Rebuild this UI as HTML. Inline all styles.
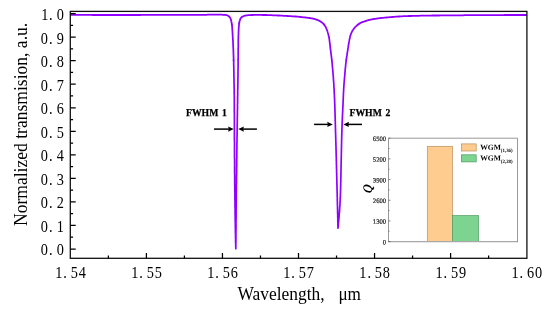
<!DOCTYPE html>
<html><head><meta charset="utf-8"><title>Transmission spectrum</title>
<style>
html,body{margin:0;padding:0;background:#fff;}
body{width:550px;height:313px;overflow:hidden;}
svg{display:block;}
text{font-family:"Liberation Serif","Times New Roman",serif;fill:#000;}
.tk{font-size:15.7px;}
.ttl{font-size:17.8px;}
.ann{font-size:9.7px;font-weight:bold;word-spacing:1.2px;stroke:#000;stroke-width:0.25px;}
.in{font-size:6.7px;fill:#222;stroke:#222;stroke-width:0.2px;}
.lg{font-size:7.6px;font-weight:bold;}
.sub{font-size:4.9px;font-weight:bold;}
</style></head><body>
<svg width="550" height="313" viewBox="0 0 550 313">
<rect x="0" y="0" width="550" height="313" fill="#fff"/>
<path d="M70.9 14.8 71.7 14.8 72.5 14.8 73.3 14.8 74.1 14.8 74.9 14.8 75.7 14.8 76.5 14.8 77.3 14.9 78.1 14.9 78.9 14.9 79.7 14.9 80.5 14.9 81.3 14.9 82.1 14.9 82.9 14.9 83.7 14.9 84.5 14.9 85.3 14.9 86.1 14.9 86.9 14.9 87.7 14.9 88.5 14.9 89.3 14.9 90.1 14.9 90.9 14.9 91.7 14.9 92.5 15.0 93.3 15.0 94.1 15.0 94.9 15.0 95.7 15.0 96.5 15.0 97.3 15.0 98.1 15.0 98.9 15.0 99.7 15.0 100.5 15.0 101.3 15.0 102.1 15.0 102.9 15.0 103.7 15.0 104.5 15.0 105.3 15.0 106.1 15.0 106.8 15.0 107.6 15.0 108.4 15.0 109.2 15.0 110.0 15.0 110.8 15.0 111.6 15.0 112.4 15.0 113.2 15.0 114.0 15.0 114.8 15.0 115.6 15.0 116.4 15.0 117.2 15.0 118.0 15.0 118.8 15.0 119.6 15.0 120.4 15.0 121.2 15.0 122.0 15.0 122.8 15.0 123.6 15.0 124.4 15.0 125.2 15.0 126.0 15.0 126.8 15.0 127.6 15.0 128.4 15.0 129.2 15.0 130.0 15.0 130.8 15.0 131.6 15.0 132.4 15.0 133.2 15.0 134.0 15.0 134.8 15.0 135.6 15.0 136.4 15.0 137.2 15.0 138.0 15.0 138.8 15.0 139.6 15.0 140.4 15.0 141.2 14.9 142.0 14.9 142.8 14.9 143.6 14.9 144.4 14.9 145.2 14.9 146.0 14.9 146.8 14.9 147.6 14.9 148.4 14.9 149.2 14.9 150.0 14.9 150.8 14.9 151.6 14.9 152.4 14.9 153.2 14.9 154.0 14.9 154.8 14.9 155.6 14.9 156.4 14.9 157.2 14.9 158.0 14.9 158.8 14.9 159.6 14.9 160.4 14.9 161.2 14.9 162.0 14.9 162.8 14.9 163.6 14.9 164.4 14.9 165.2 14.9 166.0 14.9 166.8 14.9 167.6 14.9 168.4 14.9 169.2 14.9 170.0 14.9 170.8 14.9 171.6 14.9 172.4 14.9 173.2 14.9 174.0 14.9 174.8 14.9 175.6 14.9 176.4 14.9 177.2 14.9 178.0 14.9 178.8 14.9 179.5 14.9 180.3 14.9 181.1 14.9 181.9 14.9 182.7 14.9 183.5 14.8 184.3 14.8 185.1 14.8 185.9 14.8 186.7 14.8 187.5 14.8 188.3 14.8 189.1 14.8 189.9 14.8 190.7 14.8 191.5 14.8 192.3 14.8 193.1 14.8 193.9 14.8 194.7 14.8 195.5 14.8 196.3 14.8 197.1 14.8 197.9 14.8 198.7 14.8 199.5 14.8 200.3 14.8 201.1 14.8 201.9 14.8 202.7 14.8 203.5 14.8 204.3 14.8 205.1 14.8 205.9 14.8 206.7 14.8 207.5 14.7 208.3 14.7 209.1 14.7 209.9 14.7 210.7 14.7 211.5 14.7 212.3 14.7 213.1 14.7 213.9 14.7 214.7 14.7 215.5 14.7 216.3 14.7 217.1 14.7 217.9 14.7 218.7 14.7 219.5 14.7 220.3 14.7 221.1 14.7 221.9 14.7 222.7 14.8 223.5 14.8 224.3 14.8 225.1 14.9 225.9 15.0 226.7 15.2 227.4 15.4 228.1 15.8 228.8 16.2 229.4 16.8 229.9 17.4 230.3 18.1 230.6 18.8 230.9 19.6 231.1 20.3 231.3 21.1 231.4 21.9 231.6 22.7 231.7 23.5 231.8 24.3" fill="none" stroke="#9000ff" stroke-width="1.80" stroke-linejoin="round" stroke-linecap="round"/>
<path d="M231.8 24.3 232.0 25.1 232.0 25.9 232.1 26.7 232.2 27.5 232.2 28.3 232.3 29.1 232.3 29.8 232.4 30.6 232.4 31.4 232.5 32.2 232.5 33.0 232.6 33.8 232.6 34.6 232.6 35.4 232.7 36.2 232.7 37.0 232.8 37.8 232.8 38.6 232.9 39.4 232.9 40.2 233.0 41.0 233.0 41.8 233.0 42.6 233.1 43.4 233.1 44.2 233.1 45.0 233.2 45.8 233.2 46.6 233.2 47.4 233.3 48.2 233.3 49.0 233.3 49.8 233.4 50.6 233.4 51.4 233.4 52.2 233.4 53.0 233.5 53.8 233.5 54.6 233.5 55.4 233.5 56.2 233.6 57.0 233.6 57.8 233.6 58.6 233.6 59.4 233.6 60.2" fill="none" stroke="#9000ff" stroke-width="1.75" stroke-linejoin="round" stroke-linecap="round"/>
<path d="M233.6 60.2 233.6 61.0 233.7 61.8 233.7 62.6 233.7 63.4 233.7 64.2 233.7 65.0 233.7 65.8 233.8 66.6 233.8 67.4 233.8 68.2 233.8 69.0 233.8 69.8 233.8 70.6 233.9 71.4 233.9 72.2 233.9 73.0 233.9 73.8 233.9 74.6 233.9 75.4 233.9 76.2 233.9 77.0 234.0 77.7 234.0 78.5 234.0 79.3 234.0 80.1 234.0 80.9 234.0 81.7 234.0 82.5 234.1 83.3 234.1 84.1 234.1 84.9 234.1 85.7 234.1 86.5 234.1 87.3 234.1 88.1 234.2 88.9 234.2 89.7 234.2 90.5 234.2 91.3 234.2 92.1 234.2 92.9 234.2 93.7 234.2 94.5 234.3 95.3 234.3 96.1 234.3 96.9 234.3 97.7 234.3 98.5 234.3 99.3 234.3 100.1 234.3 100.9 234.3 101.7 234.3 102.5 234.3 103.3 234.3 104.1 234.3 104.9 234.3 105.7 234.3 106.5 234.3 107.3 234.3 108.1 234.3 108.9 234.3 109.7 234.3 110.5 234.3 111.3 234.3 112.1 234.4 112.9 234.4 113.7 234.4 114.5 234.4 115.3 234.4 116.1 234.4 116.9 234.4 117.7 234.4 118.5 234.4 119.3 234.4 120.1 234.4 120.9 234.4 121.7 234.4 122.5 234.4 123.3 234.4 124.1 234.4 124.9 234.4 125.7 234.4 126.5 234.4 127.3 234.4 128.1 234.4 128.9 234.4 129.7 234.4 130.5 234.4 131.3 234.4 132.1 234.4 132.9 234.4 133.7 234.4 134.5 234.4 135.3 234.4 136.1 234.4 136.9 234.4 137.7 234.4 138.5 234.4 139.3 234.4 140.1 234.5 140.9 234.5 141.7 234.5 142.5 234.5 143.3 234.5 144.1 234.5 144.9 234.5 145.7 234.5 146.5 234.5 147.3 234.5 148.0 234.5 148.8 234.5 149.6 234.5 150.4 234.5 151.2 234.5 152.0 234.5 152.8 234.5 153.6 234.5 154.4 234.5 155.2 234.5 156.0 234.5 156.8 234.5 157.6 234.5 158.4 234.6 159.2 234.6 160.0 234.6 160.8 234.6 161.6 234.6 162.4 234.6 163.2 234.6 164.0 234.6 164.8 234.6 165.6 234.6 166.4 234.6 167.2 234.6 168.0 234.6 168.8 234.6 169.6 234.6 170.4 234.6 171.2 234.6 172.0 234.6 172.8 234.6 173.6 234.7 174.4 234.7 175.2 234.7 176.0 234.7 176.8 234.7 177.6 234.7 178.4 234.7 179.2 234.7 180.0 234.7 180.8 234.7 181.6 234.7 182.4 234.7 183.2 234.7 184.0 234.7 184.8 234.8 185.6 234.8 186.4 234.8 187.2 234.8 188.0 234.8 188.8 234.8 189.6 234.8 190.4 234.8 191.2 234.8 192.0 234.9 192.8 234.9 193.6 234.9 194.4 234.9 195.2 234.9 196.0 234.9 196.8 234.9 197.6 234.9 198.4 234.9 199.2 234.9 200.0 235.0 200.8 235.0 201.6 235.0 202.4 235.0 203.2 235.0 204.0 235.0 204.8 235.0 205.6 235.0 206.4 235.0 207.2 235.1 208.0 235.1 208.8 235.1 209.6 235.1 210.4 235.1 211.2 235.1 212.0 235.1 212.8 235.1 213.6 235.1 214.4 235.1 215.2 235.2 216.0 235.2 216.8 235.2 217.5 235.2 218.3 235.2 219.1 235.2 219.9 235.2 220.7 235.2 221.5 235.3 222.3 235.3 223.1 235.3 223.9 235.3 224.7 235.3 225.5 235.3 226.3 235.3 227.1 235.4 227.9 235.4 228.7 235.4 229.5 235.4 230.3 235.4 231.1 235.4 231.9 235.4 232.7 235.5 233.5 235.5 234.3 235.5 235.1 235.5 235.9 235.5 236.7 235.5 237.5 235.6 238.3 235.6 239.1 235.6 239.9 235.6 240.7 235.6 241.5 235.6 242.3 235.7 243.1 235.7 243.9 235.7 244.7 235.7 245.5 235.7 246.3 235.8 247.1 235.8 247.9 235.8 248.7 235.8 247.9 235.8 247.1 235.8 246.3 235.8 245.5 235.8 244.7 235.8 243.9 235.8 243.1 235.9 242.3 235.9 241.5 235.9 240.7 235.9 239.9 235.9 239.1 235.9 238.3 235.9 237.5 235.9 236.7 235.9 235.9 235.9 235.1 235.9 234.3 235.9 233.5 235.9 232.7 235.9 231.9 235.9 231.1 236.0 230.3 236.0 229.5 236.0 228.7 236.0 227.9 236.0 227.1 236.0 226.3 236.0 225.5 236.0 224.7 236.0 223.9 236.0 223.1 236.0 222.3 236.0 221.5 236.0 220.7 236.0 219.9 236.1 219.1 236.1 218.3 236.1 217.5 236.1 216.7 236.1 215.9 236.1 215.1 236.1 214.3 236.1 213.5 236.1 212.7 236.1 211.9 236.1 211.1 236.1 210.3 236.1 209.5 236.2 208.7 236.2 207.9 236.2 207.1 236.2 206.3 236.2 205.5 236.2 204.8 236.2 204.0 236.2 203.2 236.2 202.4 236.2 201.6 236.2 200.8 236.3 200.0 236.3 199.2 236.3 198.4 236.3 197.6 236.3 196.8 236.3 196.0 236.3 195.2 236.3 194.4 236.3 193.6 236.3 192.8 236.3 192.0 236.4 191.2 236.4 190.4 236.4 189.6 236.4 188.8 236.4 188.0 236.4 187.2 236.4 186.4 236.4 185.6 236.4 184.8 236.5 184.0 236.5 183.2 236.5 182.4 236.5 181.6 236.5 180.8 236.5 180.0 236.5 179.2 236.5 178.4 236.5 177.6 236.5 176.8 236.5 176.0 236.6 175.2 236.6 174.4 236.6 173.6 236.6 172.8 236.6 172.0 236.6 171.2 236.6 170.4 236.6 169.6 236.6 168.8 236.6 168.0 236.6 167.2 236.7 166.4 236.7 165.6 236.7 164.8 236.7 164.0 236.7 163.2 236.7 162.4 236.7 161.6 236.7 160.8 236.7 160.0 236.7 159.2 236.7 158.4 236.8 157.6 236.8 156.8 236.8 156.0 236.8 155.2 236.8 154.4 236.8 153.6 236.8 152.8 236.8 152.0 236.8 151.2 236.8 150.4 236.9 149.6 236.9 148.8 236.9 148.0 236.9 147.2 236.9 146.4 236.9 145.6 236.9 144.8 236.9 144.0 236.9 143.2 237.0 142.4 237.0 141.6 237.0 140.8 237.0 140.0 237.0 139.2 237.0 138.4 237.0 137.6 237.0 136.8 237.1 136.0 237.1 135.2 237.1 134.4 237.1 133.6 237.1 132.8 237.1 132.0 237.1 131.2 237.1 130.4 237.2 129.6 237.2 128.8 237.2 128.0 237.2 127.2 237.2 126.4 237.2 125.6 237.2 124.8 237.2 124.0 237.3 123.2 237.3 122.4 237.3 121.6 237.3 120.9 237.3 120.1 237.3 119.3 237.3 118.5 237.3 117.7 237.3 116.9 237.4 116.1 237.4 115.3 237.4 114.5 237.4 113.7 237.4 112.9 237.4 112.1 237.4 111.3 237.4 110.5 237.5 109.7 237.5 108.9 237.5 108.1 237.5 107.3 237.5 106.5 237.5 105.7 237.5 104.9 237.5 104.1 237.6 103.3 237.6 102.5 237.6 101.7 237.6 100.9 237.6 100.1 237.6 99.3 237.6 98.5 237.6 97.7 237.6 96.9 237.7 96.1 237.7 95.3 237.7 94.5 237.7 93.7 237.7 92.9 237.7 92.1 237.7 91.3 237.7 90.5 237.8 89.7 237.8 88.9 237.8 88.1 237.8 87.3 237.8 86.5 237.8 85.7 237.8 84.9 237.8 84.1 237.9 83.3 237.9 82.5 237.9 81.7 237.9 80.9 237.9 80.1 237.9 79.3 237.9 78.5 237.9 77.7 237.9 76.9 238.0 76.1 238.0 75.3 238.0 74.5 238.0 73.7 238.0 72.9 238.0 72.1 238.0 71.3 238.0 70.5 238.0 69.7 238.0 68.9 238.1 68.1 238.1 67.3 238.1 66.5 238.1 65.7 238.1 64.9 238.1 64.1 238.1 63.3 238.1 62.5 238.1 61.7 238.1 60.9 238.1 60.1 238.2 59.3" fill="none" stroke="#9000ff" stroke-width="1.70" stroke-linejoin="round" stroke-linecap="round"/>
<path d="M238.2 59.3 238.2 58.5 238.2 57.7 238.2 56.9 238.2 56.1 238.2 55.3 238.2 54.5 238.2 53.7 238.2 52.9 238.2 52.1 238.2 51.3 238.2 50.5 238.2 49.7 238.2 48.9 238.2 48.1 238.3 47.3 238.3 46.5 238.3 45.7 238.3 44.9 238.3 44.1 238.3 43.3 238.3 42.5 238.3 41.7 238.3 40.9 238.3 40.1 238.3 39.3 238.4 38.5 238.4 37.8 238.4 37.0 238.4 36.2 238.4 35.4 238.5 34.6 238.5 33.8 238.5 33.0 238.5 32.2 238.6 31.4 238.6 30.6 238.6 29.8 238.7 29.0 238.7 28.2 238.8 27.4 238.8 26.6 238.9 25.8 239.0 25.0 239.1 24.2 239.2 23.4" fill="none" stroke="#9000ff" stroke-width="1.75" stroke-linejoin="round" stroke-linecap="round"/>
<path d="M239.2 23.4 239.3 22.6 239.5 21.8 239.6 21.0 239.9 20.3 240.1 19.5 240.4 18.8 240.8 18.1 241.3 17.5 241.9 17.0 242.6 16.6 243.4 16.2 244.1 16.0 244.9 15.7 245.7 15.5 246.5 15.4 247.3 15.3 248.1 15.2 248.9 15.2 249.7 15.1 250.4 15.1 251.2 15.0 252.0 15.0 252.8 15.0 253.6 14.9 254.4 14.9 255.2 14.9 256.0 14.9 256.8 14.9 257.6 14.9 258.4 14.9 259.2 14.9 260.0 14.9 260.8 14.9 261.6 14.9 262.4 15.0 263.2 15.0 264.0 15.0 264.8 15.0 265.6 15.0 266.4 15.0 267.2 15.1 268.0 15.1 268.8 15.1 269.6 15.1 270.4 15.2 271.2 15.2 272.0 15.2 272.8 15.3 273.6 15.3 274.4 15.3 275.2 15.4 276.0 15.4 276.8 15.4 277.6 15.5 278.4 15.5 279.2 15.5 280.0 15.6 280.8 15.6 281.6 15.7 282.4 15.7 283.2 15.8 284.0 15.8 284.8 15.8 285.6 15.9 286.4 15.9 287.2 16.0 288.0 16.0 288.8 16.1 289.6 16.1 290.4 16.2 291.2 16.2 292.0 16.3 292.8 16.3 293.6 16.4 294.4 16.4 295.2 16.5 296.0 16.5 296.8 16.6 297.5 16.7 298.3 16.7 299.1 16.8 299.9 16.9 300.7 17.0 301.5 17.1 302.3 17.2 303.1 17.3 303.9 17.4 304.7 17.4 305.5 17.5 306.3 17.6 307.1 17.7 307.9 17.8 308.7 17.9 309.5 18.0 310.3 18.1 311.0 18.3 311.8 18.4 312.6 18.5 313.4 18.7 314.2 18.9 314.9 19.1 315.7 19.4 316.5 19.6 317.2 19.9 317.9 20.2 318.7 20.5 319.4 20.9 320.1 21.3 320.8 21.7 321.5 22.1 322.1 22.6 322.7 23.1 323.3 23.7 323.8 24.3" fill="none" stroke="#9000ff" stroke-width="1.80" stroke-linejoin="round" stroke-linecap="round"/>
<path d="M323.8 24.3 324.3 24.9 324.8 25.5 325.2 26.2 325.6 26.9 326.0 27.6 326.3 28.3 326.6 29.1 326.9 29.8 327.2 30.6 327.4 31.3 327.7 32.1 327.9 32.9 328.1 33.6 328.3 34.4 328.5 35.2 328.7 36.0 328.9 36.8 329.0 37.5 329.2 38.3 329.3 39.1 329.4 39.9 329.5 40.7 329.6 41.5 329.7 42.3 329.8 43.1 329.9 43.9 330.0 44.7 330.1 45.5 330.1 46.3 330.2 47.0 330.3 47.8 330.4 48.6 330.5 49.4 330.6 50.2 330.7 51.0 330.8 51.8 330.9 52.6 331.0 53.4 331.1 54.2 331.2 55.0 331.3 55.8 331.4 56.6 331.5 57.4 331.6 58.2 331.7 58.9 331.8 59.7 331.8 60.5" fill="none" stroke="#9000ff" stroke-width="1.75" stroke-linejoin="round" stroke-linecap="round"/>
<path d="M331.8 60.5 331.9 61.3 332.0 62.1 332.1 62.9 332.2 63.7 332.2 64.5 332.3 65.3 332.4 66.1 332.4 66.9 332.5 67.7 332.6 68.5 332.7 69.3 332.7 70.1 332.8 70.9 332.9 71.7 332.9 72.5 333.0 73.3 333.1 74.1 333.1 74.9 333.2 75.7 333.3 76.5 333.3 77.2 333.4 78.0 333.4 78.8 333.5 79.6 333.5 80.4 333.6 81.2 333.7 82.0 333.7 82.8 333.8 83.6 333.8 84.4 333.8 85.2 333.9 86.0 333.9 86.8 334.0 87.6 334.0 88.4 334.1 89.2 334.1 90.0 334.2 90.8 334.2 91.6 334.2 92.4 334.3 93.2 334.3 94.0 334.4 94.8 334.4 95.6 334.4 96.4 334.5 97.2 334.5 98.0 334.6 98.8 334.6 99.6 334.6 100.4 334.6 101.2 334.7 102.0 334.7 102.8 334.7 103.6 334.8 104.4 334.8 105.2 334.8 106.0 334.8 106.8 334.9 107.6 334.9 108.4 334.9 109.2 334.9 110.0 335.0 110.8 335.0 111.6 335.0 112.4 335.0 113.2 335.1 114.0 335.1 114.8 335.1 115.6 335.1 116.4 335.1 117.2 335.2 118.0 335.2 118.8 335.2 119.6 335.2 120.4 335.3 121.2 335.3 122.0 335.3 122.8 335.3 123.6 335.3 124.3 335.4 125.1 335.4 125.9 335.4 126.7 335.4 127.5 335.5 128.3 335.5 129.1 335.5 129.9 335.5 130.7 335.5 131.5 335.6 132.3 335.6 133.1 335.6 133.9 335.6 134.7 335.7 135.5 335.7 136.3 335.7 137.1 335.7 137.9 335.8 138.7 335.8 139.5 335.8 140.3 335.8 141.1 335.8 141.9 335.9 142.7 335.9 143.5 335.9 144.3 335.9 145.1 336.0 145.9 336.0 146.7 336.0 147.5 336.0 148.3 336.0 149.1 336.1 149.9 336.1 150.7 336.1 151.5 336.1 152.3 336.1 153.1 336.2 153.9 336.2 154.7 336.2 155.5 336.2 156.3 336.3 157.1 336.3 157.9 336.3 158.7 336.3 159.5 336.3 160.3 336.4 161.1 336.4 161.9 336.4 162.7 336.4 163.5 336.4 164.3 336.5 165.1 336.5 165.9 336.5 166.7 336.5 167.5 336.5 168.3 336.6 169.1 336.6 169.9 336.6 170.7 336.6 171.5 336.6 172.3 336.7 173.1 336.7 173.9 336.7 174.7 336.7 175.5 336.7 176.3 336.8 177.1 336.8 177.9 336.8 178.7 336.8 179.5 336.8 180.3 336.9 181.1 336.9 181.9 336.9 182.7 336.9 183.5 336.9 184.3 337.0 185.1 337.0 185.9 337.0 186.7 337.0 187.5 337.0 188.3 337.1 189.1 337.1 189.9 337.1 190.7 337.1 191.5 337.1 192.3 337.2 193.0 337.2 193.8 337.2 194.6 337.2 195.4 337.2 196.2 337.3 197.0 337.3 197.8 337.3 198.6 337.3 199.4 337.3 200.2 337.3 201.0 337.4 201.8 337.4 202.6 337.4 203.4 337.4 204.2 337.4 205.0 337.5 205.8 337.5 206.6 337.5 207.4 337.5 208.2 337.5 209.0 337.6 209.8 337.6 210.6 337.6 211.4 337.6 212.2 337.6 213.0 337.7 213.8 337.7 214.6 337.7 215.4 337.7 216.2 337.7 217.0 337.8 217.8 337.8 218.6 337.8 219.4 337.8 220.2 337.8 221.0 337.8 221.8 337.9 222.6 337.9 223.4 337.9 224.2 337.9 225.0 337.9 225.8 338.0 226.6 338.0 227.4 338.0 228.2 338.1 227.4 338.2 226.6 338.2 225.8 338.3 225.0 338.4 224.2 338.4 223.4 338.5 222.6 338.6 221.8 338.7 221.0 338.7 220.2 338.8 219.4 338.9 218.6 338.9 217.8 339.0 217.1 339.1 216.3 339.1 215.5 339.2 214.7 339.3 213.9 339.3 213.1 339.4 212.3 339.5 211.5 339.5 210.7 339.6 209.9 339.6 209.1 339.7 208.3 339.7 207.5 339.8 206.7 339.9 205.9 339.9 205.1 340.0 204.3 340.0 203.5 340.0 202.7 340.1 201.9 340.1 201.1 340.2 200.3 340.2 199.5 340.2 198.7 340.3 197.9 340.3 197.1 340.4 196.3 340.4 195.5 340.4 194.7 340.4 193.9 340.5 193.1 340.5 192.3 340.5 191.5 340.5 190.7 340.6 189.9 340.6 189.1 340.6 188.3 340.6 187.5 340.6 186.7 340.7 185.9 340.7 185.1 340.7 184.3 340.7 183.5 340.7 182.7 340.8 182.0 340.8 181.2 340.8 180.4 340.8 179.6 340.8 178.8 340.8 178.0 340.9 177.2 340.9 176.4 340.9 175.6 340.9 174.8 340.9 174.0 340.9 173.2 341.0 172.4 341.0 171.6 341.0 170.8 341.0 170.0 341.0 169.2 341.0 168.4 341.0 167.6 341.1 166.8 341.1 166.0 341.1 165.2 341.1 164.4 341.1 163.6 341.1 162.8 341.2 162.0 341.2 161.2 341.2 160.4 341.2 159.6 341.2 158.8 341.2 158.0 341.3 157.2 341.3 156.4 341.3 155.6 341.3 154.8 341.3 154.0 341.3 153.2 341.4 152.4 341.4 151.6 341.4 150.8 341.4 150.0 341.4 149.2 341.4 148.4 341.5 147.6 341.5 146.8 341.5 146.0 341.5 145.2 341.5 144.4 341.6 143.6 341.6 142.8 341.6 142.0 341.6 141.2 341.6 140.4 341.6 139.6 341.7 138.8 341.7 138.0 341.7 137.2 341.7 136.4 341.7 135.6 341.8 134.8 341.8 134.0 341.8 133.2 341.8 132.4 341.9 131.6 341.9 130.8 341.9 130.0 341.9 129.2 342.0 128.4 342.0 127.6 342.0 126.8 342.0 126.0 342.1 125.2 342.1 124.4 342.1 123.6 342.2 122.8 342.2 122.0 342.2 121.2 342.3 120.4 342.3 119.6 342.3 118.8 342.4 118.0 342.4 117.2 342.4 116.4 342.5 115.6 342.5 114.8 342.5 114.1 342.6 113.3 342.6 112.5 342.7 111.7 342.7 110.9 342.7 110.1 342.8 109.3 342.8 108.5 342.8 107.7 342.9 106.9 342.9 106.1 343.0 105.3 343.0 104.5 343.0 103.7 343.1 102.9 343.1 102.1 343.1 101.3 343.2 100.5 343.2 99.7 343.2 98.9 343.3 98.1 343.3 97.3 343.3 96.5 343.4 95.7 343.4 94.9 343.4 94.1 343.5 93.3 343.5 92.5 343.6 91.7 343.6 90.9 343.6 90.1 343.7 89.3 343.7 88.5 343.8 87.7 343.8 86.9 343.9 86.1 343.9 85.3 344.0 84.5 344.0 83.7 344.1 82.9 344.2 82.1 344.2 81.3 344.3 80.5 344.4 79.7 344.4 78.9 344.5 78.1 344.6 77.4 344.6 76.6 344.7 75.8 344.8 75.0 344.8 74.2 344.9 73.4 345.0 72.6 345.0 71.8 345.1 71.0 345.2 70.2 345.2 69.4 345.3 68.6 345.4 67.8 345.5 67.0 345.6 66.2 345.6 65.4 345.7 64.6 345.8 63.8 345.9 63.0 346.0 62.2 346.1 61.4 346.2 60.7 346.3 59.9" fill="none" stroke="#9000ff" stroke-width="1.70" stroke-linejoin="round" stroke-linecap="round"/>
<path d="M346.3 59.9 346.4 59.1 346.5 58.3 346.6 57.5 346.7 56.7 346.9 55.9 347.0 55.1 347.1 54.3 347.2 53.5 347.3 52.7 347.4 51.9 347.6 51.2 347.7 50.4 347.8 49.6 347.9 48.8 348.0 48.0 348.2 47.2 348.3 46.4 348.4 45.6 348.5 44.8 348.7 44.1 348.8 43.3 348.9 42.5 349.1 41.7 349.2 40.9 349.4 40.1 349.5 39.3 349.7 38.5 349.9 37.8 350.0 37.0 350.2 36.2 350.5 35.4 350.7 34.7 351.0 33.9 351.3 33.2 351.6 32.5 352.0 31.7 352.3 31.0 352.7 30.3 353.2 29.7 353.6 29.0 354.1 28.4 354.6 27.7 355.1 27.1 355.7 26.6 356.3 26.0 356.9 25.5 357.5 25.0 358.1 24.5 358.7 24.0 359.4 23.6" fill="none" stroke="#9000ff" stroke-width="1.75" stroke-linejoin="round" stroke-linecap="round"/>
<path d="M359.4 23.6 360.1 23.2 360.8 22.8 361.5 22.4 362.3 22.1 363.0 21.8 363.8 21.6 364.5 21.3 365.3 21.1 366.1 20.8 366.8 20.6 367.6 20.4 368.4 20.2 369.1 19.9 369.9 19.8 370.7 19.6 371.5 19.4 372.2 19.3 373.0 19.1 373.8 19.0 374.6 18.9 375.4 18.8 376.2 18.7 377.0 18.6 377.8 18.4 378.6 18.3 379.4 18.2 380.2 18.1 381.0 18.0 381.7 17.9 382.5 17.9 383.3 17.8 384.1 17.7 384.9 17.6 385.7 17.6 386.5 17.5 387.3 17.4 388.1 17.4 388.9 17.3 389.7 17.2 390.5 17.1 391.3 17.1 392.1 17.0 392.9 16.9 393.7 16.9 394.5 16.8 395.3 16.7 396.1 16.7 396.9 16.6 397.7 16.6 398.5 16.5 399.3 16.5 400.1 16.4 400.9 16.4 401.7 16.3 402.5 16.3 403.3 16.2 404.1 16.2 404.8 16.2 405.6 16.1 406.4 16.1 407.2 16.1 408.0 16.1 408.8 16.0 409.6 16.0 410.4 16.0 411.2 16.0 412.0 15.9 412.8 15.9 413.6 15.9 414.4 15.9 415.2 15.9 416.0 15.8 416.8 15.8 417.6 15.8 418.4 15.8 419.2 15.8 420.0 15.7 420.8 15.7 421.6 15.7 422.4 15.7 423.2 15.7 424.0 15.7 424.8 15.7 425.6 15.6 426.4 15.6 427.2 15.6 428.0 15.6 428.8 15.6 429.6 15.6 430.4 15.6 431.2 15.6 432.0 15.5 432.8 15.5 433.6 15.5 434.4 15.5 435.2 15.5 436.0 15.5 436.8 15.5 437.6 15.5 438.4 15.5 439.2 15.5 440.0 15.4 440.8 15.4 441.6 15.4 442.4 15.4 443.2 15.4 444.0 15.4 444.8 15.4 445.6 15.4 446.4 15.4 447.2 15.4 448.0 15.4 448.8 15.4 449.6 15.4 450.4 15.4 451.2 15.3 452.0 15.3 452.8 15.3 453.6 15.3 454.4 15.3 455.2 15.3 456.0 15.3 456.8 15.3 457.6 15.3 458.4 15.3 459.2 15.3 460.0 15.3 460.8 15.3 461.6 15.3 462.4 15.3 463.2 15.3 464.0 15.2 464.8 15.2 465.6 15.2 466.4 15.2 467.2 15.2 468.0 15.2 468.8 15.2 469.6 15.2 470.4 15.2 471.2 15.2 472.0 15.2 472.8 15.2 473.6 15.2 474.4 15.2 475.2 15.2 476.0 15.2 476.8 15.2 477.6 15.2 478.4 15.2 479.2 15.2 480.0 15.1 480.8 15.1 481.6 15.1 482.4 15.1 483.2 15.1 483.9 15.1 484.7 15.1 485.5 15.1 486.3 15.1 487.1 15.1 487.9 15.1 488.7 15.1 489.5 15.1 490.3 15.1 491.1 15.1 491.9 15.1 492.7 15.1 493.5 15.1 494.3 15.1 495.1 15.1 495.9 15.1 496.7 15.1 497.5 15.1 498.3 15.1 499.1 15.1 499.9 15.1 500.7 15.1 501.5 15.1 502.3 15.1 503.1 15.1 503.9 15.1 504.7 15.0 505.5 15.0 506.3 15.0 507.1 15.0 507.9 15.0 508.7 15.0 509.5 15.0 510.3 15.0 511.1 15.0 511.9 15.0 512.7 15.0 513.5 15.0 514.3 15.0 515.1 15.0 515.9 15.0 516.7 15.0 517.5 15.0 518.3 15.0 519.1 15.0 519.9 15.0 520.7 15.0 521.5 15.0 522.3 15.0 523.1 15.0 523.9 15.0 524.7 15.0 525.5 15.0 526.3 15.0" fill="none" stroke="#9000ff" stroke-width="1.80" stroke-linejoin="round" stroke-linecap="round"/>
<rect x="70.3" y="11.4" width="456.6" height="246.9" fill="none" stroke="#111" stroke-width="1.3"/>
<path d="M70.3 249.00h5.4 M70.3 237.23h2.8 M70.3 225.46h5.4 M70.3 213.69h2.8 M70.3 201.92h5.4 M70.3 190.15h2.8 M70.3 178.38h5.4 M70.3 166.61h2.8 M70.3 154.84h5.4 M70.3 143.07h2.8 M70.3 131.30h5.4 M70.3 119.53h2.8 M70.3 107.76h5.4 M70.3 95.99h2.8 M70.3 84.22h5.4 M70.3 72.45h2.8 M70.3 60.68h5.4 M70.3 48.91h2.8 M70.3 37.14h5.4 M70.3 25.37h2.8 M70.3 13.60h5.4 M108.37 258.3v-2.8 M146.40 258.3v-5.3 M184.42 258.3v-2.8 M222.45 258.3v-5.3 M260.47 258.3v-2.8 M298.50 258.3v-5.3 M336.52 258.3v-2.8 M374.55 258.3v-5.3 M412.57 258.3v-2.8 M450.60 258.3v-5.3 M488.62 258.3v-2.8" fill="none" stroke="#000" stroke-width="1.25"/>
<text class="tk" transform="scale(0.91,1)" text-anchor="middle" x="48.79 55.71 66.26" y="255.0">0.0</text>
<text class="tk" transform="scale(0.91,1)" text-anchor="middle" x="48.79 55.71 66.26" y="232.0">0.1</text>
<text class="tk" transform="scale(0.91,1)" text-anchor="middle" x="48.79 55.71 66.26" y="208.0">0.2</text>
<text class="tk" transform="scale(0.91,1)" text-anchor="middle" x="48.79 55.71 66.26" y="185.0">0.3</text>
<text class="tk" transform="scale(0.91,1)" text-anchor="middle" x="48.79 55.71 66.26" y="161.0">0.4</text>
<text class="tk" transform="scale(0.91,1)" text-anchor="middle" x="48.79 55.71 66.26" y="138.0">0.5</text>
<text class="tk" transform="scale(0.91,1)" text-anchor="middle" x="48.79 55.71 66.26" y="114.0">0.6</text>
<text class="tk" transform="scale(0.91,1)" text-anchor="middle" x="48.79 55.71 66.26" y="91.0">0.7</text>
<text class="tk" transform="scale(0.91,1)" text-anchor="middle" x="48.79 55.71 66.26" y="67.0">0.8</text>
<text class="tk" transform="scale(0.91,1)" text-anchor="middle" x="48.79 55.71 66.26" y="44.0">0.9</text>
<text class="tk" transform="scale(0.91,1)" text-anchor="middle" x="49.34 55.71 66.26" y="20.0">1.0</text>
<text class="tk" transform="scale(0.91,1)" text-anchor="middle" x="64.56 71.43 81.59 90.33" y="278.0">1.54</text>
<text class="tk" transform="scale(0.91,1)" text-anchor="middle" x="148.13 155.00 165.16 173.90" y="278.0">1.55</text>
<text class="tk" transform="scale(0.91,1)" text-anchor="middle" x="231.70 238.57 248.74 257.47" y="278.0">1.56</text>
<text class="tk" transform="scale(0.91,1)" text-anchor="middle" x="315.27 322.14 332.31 341.04" y="278.0">1.57</text>
<text class="tk" transform="scale(0.91,1)" text-anchor="middle" x="398.85 405.71 415.88 424.62" y="278.0">1.58</text>
<text class="tk" transform="scale(0.91,1)" text-anchor="middle" x="482.42 489.29 499.45 508.19" y="278.0">1.59</text>
<text class="tk" transform="scale(0.91,1)" text-anchor="middle" x="565.99 572.86 583.02 591.76" y="278.0">1.60</text>
<text class="ttl" x="237.4" y="300" textLength="87.2" lengthAdjust="spacingAndGlyphs">Wavelength,</text>
<text class="ttl" x="338.4" y="300" textLength="22.6" lengthAdjust="spacingAndGlyphs">μm</text>
<text class="ttl" transform="translate(26.9,226.0) rotate(-90)" textLength="203.2" lengthAdjust="spacingAndGlyphs">Normalized transmision, a.u.</text>
<text class="ann" x="186" y="115.9">FWHM 1</text>
<text class="ann" x="349.5" y="115.8">FWHM 2</text>
<path d="M214.0 129.1H230.7" stroke="#000" stroke-width="1.5" fill="none"/><path d="M233.7 129.1L228.1 126.4L228.8 129.1L228.1 131.8Z" fill="#000"/>
<path d="M256.9 129.1H241.3" stroke="#000" stroke-width="1.5" fill="none"/><path d="M238.3 129.1L243.9 126.4L243.2 129.1L243.9 131.8Z" fill="#000"/>
<path d="M314.1 124.4H329.8" stroke="#000" stroke-width="1.5" fill="none"/><path d="M332.8 124.4L327.2 121.7L327.9 124.4L327.2 127.1Z" fill="#000"/>
<path d="M362.0 124.4H346.4" stroke="#000" stroke-width="1.5" fill="none"/><path d="M343.4 124.4L349.0 121.7L348.3 124.4L349.0 127.1Z" fill="#000"/>
<rect x="388.5" y="138.2" width="129.0" height="103.4" fill="#fff" stroke="none"/>
<rect x="427.3" y="146.3" width="25.2" height="95.3" fill="#ffcc8f" stroke="#b8905f" stroke-width="0.7"/>
<rect x="452.5" y="215.6" width="26.0" height="26.0" fill="#7dd491" stroke="#4e9a63" stroke-width="0.7"/>
<path d="M388.5 241.7H517.5" fill="none" stroke="#a8a8a8" stroke-width="1.2"/>
<path d="M388.5 242.2V138.2H517.5V242.2" fill="none" stroke="#777" stroke-width="0.75"/>
<path d="M388.5 241.60h2.0 M388.5 231.26h1.1 M388.5 220.92h2.0 M388.5 210.58h1.1 M388.5 200.24h2.0 M388.5 189.90h1.1 M388.5 179.56h2.0 M388.5 169.22h1.1 M388.5 158.88h2.0 M388.5 148.54h1.1 M388.5 138.20h2.0" fill="none" stroke="#555" stroke-width="0.7"/>
<text class="in" transform="translate(386.2,244.4) rotate(0.04)" text-anchor="end">0</text>
<text class="in" transform="translate(386.2,223.7) rotate(0.04)" text-anchor="end">1300</text>
<text class="in" transform="translate(386.2,203.0) rotate(0.04)" text-anchor="end">2600</text>
<text class="in" transform="translate(386.2,182.4) rotate(0.04)" text-anchor="end">3900</text>
<text class="in" transform="translate(386.2,161.7) rotate(0.04)" text-anchor="end">5200</text>
<text class="in" transform="translate(386.2,141.0) rotate(0.04)" text-anchor="end">6500</text>
<text transform="translate(372.2,193.5) rotate(-90) skewX(-8) scale(0.9,1)" style="font-size:13.2px;font-weight:bold;font-style:italic">Q</text>
<rect x="461.4" y="143.9" width="14.8" height="7.1" fill="#ffcc8f" stroke="#b8905f" stroke-width="0.7"/>
<rect x="461.4" y="154.8" width="14.8" height="7.1" fill="#7dd491" stroke="#4e9a63" stroke-width="0.7"/>
<text class="lg" transform="translate(480.2,149.7) rotate(0.04)">WGM<tspan class="sub" dy="2.3">(1,36)</tspan></text>
<text class="lg" transform="translate(480.2,160.6) rotate(0.04)">WGM<tspan class="sub" dy="2.3">(2,28)</tspan></text>
</svg>
</body></html>
